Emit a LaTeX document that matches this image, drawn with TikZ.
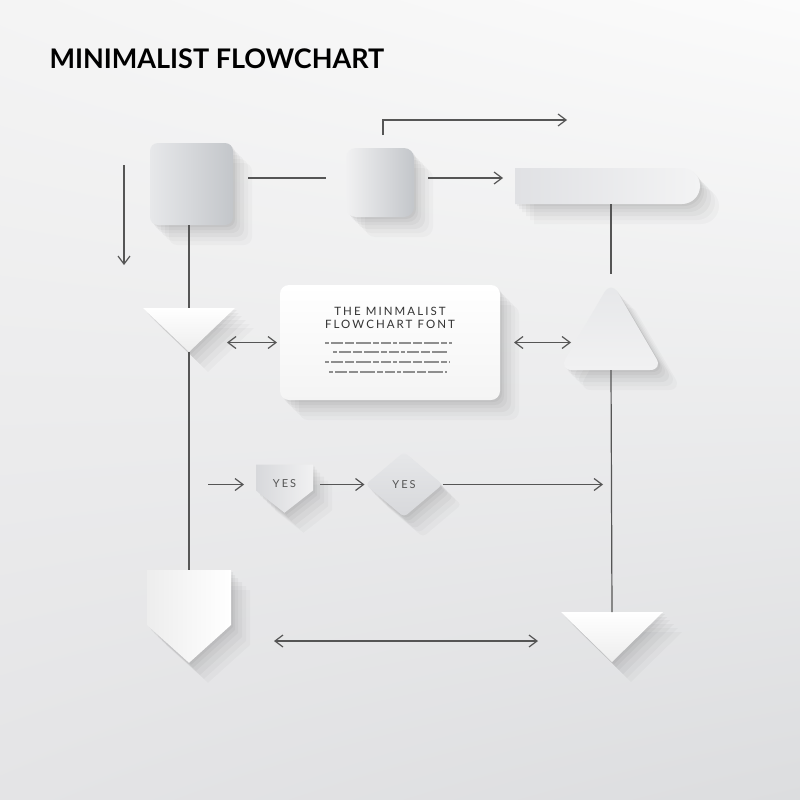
\documentclass[tikz,border=0pt]{standalone}
\usepackage{fontspec}
\usetikzlibrary{arrows.meta, shapes.geometric, shapes.symbols, shapes.misc, shadows, shadings}
\newfontfamily\titlefont{Lato}
\newfontfamily\cardfont[LetterSpace=18]{Lato}
\definecolor{linegray}{HTML}{555555}
\definecolor{boxlight}{HTML}{E7E8EA}
\definecolor{boxdark}{HTML}{C3C6CA}
\definecolor{pilldark}{HTML}{E0E1E4}
\definecolor{pilllight}{HTML}{F3F3F4}
\definecolor{softgray}{HTML}{EDEDED}
\definecolor{yesgray}{HTML}{D7D8DB}
\definecolor{yeslight}{HTML}{F1F1F2}
\definecolor{trigray}{HTML}{E6E7E9}
\definecolor{texgray}{HTML}{8E8E8E}
\definecolor{bgul}{HTML}{F4F4F4}
\definecolor{bgur}{HTML}{FBFBFB}
\definecolor{bgll}{HTML}{E4E4E6}
\definecolor{bglr}{HTML}{DCDDDF}

\begin{document}
\begin{tikzpicture}[x=1pt, y=-1pt,
  conn/.style={draw=linegray, line width=1.2pt},
  >={Straight Barb[length=8pt,width=12pt]},
  shadowed/.style={
    general shadow={fill=black, opacity=.025, shadow xshift=19pt, shadow yshift=-20pt},
    general shadow={fill=black, opacity=.025, shadow xshift=15pt, shadow yshift=-16pt},
    general shadow={fill=black, opacity=.03, shadow xshift=11pt, shadow yshift=-12pt},
    general shadow={fill=black, opacity=.03, shadow xshift=7pt, shadow yshift=-8pt},
    general shadow={fill=black, opacity=.035, shadow xshift=4pt, shadow yshift=-5pt},
    general shadow={fill=black, opacity=.04, shadow xshift=2pt, shadow yshift=-2pt}},
  graybox/.style={rectangle, rounded corners=8pt, shadowed, left color=boxlight, right color=boxdark, inner sep=0pt, outer sep=0pt},
  pillbox/.style={rounded rectangle, rounded rectangle left arc=none, shadowed, left color=pilldark, right color=pilllight, inner sep=0pt, outer sep=0pt},
  cardbox/.style={rectangle, rounded corners=9pt, shadowed, top color=white, bottom color=softgray!60, inner sep=0pt, outer sep=0pt},
  whitetri/.style={isosceles triangle, isosceles triangle stretches, shadowed, top color=white, bottom color=softgray, inner sep=0pt, outer sep=0pt},
  whitepent/.style={signal, signal to=south, shadowed, left color=softgray, right color=white, inner sep=0pt, outer sep=0pt},
  yespent/.style={signal, signal to=south, shadowed, left color=yesgray, right color=yeslight, inner sep=0pt, outer sep=0pt, font=\cardfont\fontsize{11}{13}\selectfont, text=linegray},
  yesdia/.style={diamond, rounded corners=4pt, shadowed, top color=trigray, bottom color=yesgray, inner sep=0pt, outer sep=0pt, font=\cardfont\fontsize{11}{13}\selectfont, text=linegray},
  textline/.style={draw=texgray, line width=2pt, dash pattern=on 4pt off 2pt on 12pt off 2pt on 9pt off 2pt on 15pt off 2pt on 6pt off 2pt on 10pt off 2pt}]

  % background
  \useasboundingbox (0,0) rectangle (800,800);
  \shade[upper left=bgul, upper right=bgur, lower left=bgll, lower right=bglr] (0,0) rectangle (800,800);

  \node[anchor=base west, font=\titlefont\bfseries\fontsize{27}{30}\selectfont] (title) at (46,68) {MINIMALIST FLOWCHART};

  % shapes
  \node[graybox, minimum width=83pt, minimum height=82pt] (boxA) at (191.5,184) {};
  \node[graybox, rounded corners=10pt, left color=yeslight, minimum width=68pt, minimum height=69pt] (boxB) at (380,182.5) {};
  \node[pillbox, minimum width=185pt, minimum height=36pt] (pill) at (607.5,186) {};
  \node[whitetri, shape border rotate=270, minimum width=92pt, minimum height=44pt, anchor=lower side] (triD) at (189,308) {};
  \node[cardbox, minimum width=220pt, minimum height=115pt] (card) at (390,342.5) {};
  \node[whitetri, shape border rotate=90, rounded corners=13pt, top color=trigray, bottom color=yeslight, minimum width=104pt, minimum height=89pt, anchor=lower side] (triF) at (611,370) {};
  \node[yespent, signal pointer angle=104, minimum width=57pt, minimum height=35pt, text height=21pt, text depth=2pt] (pentG) at (284.5,477.5) {YES};
  \node[yesdia, minimum width=77pt, minimum height=65pt] (diaH) at (404,484.5) {YES};
  \node[whitepent, signal pointer angle=96, minimum width=84pt, minimum height=55pt] (pentI) at (189,597.5) {};
  \node[whitetri, shape border rotate=270, minimum width=102pt, minimum height=50pt, anchor=lower side] (triJ) at (612,612) {};

  % card text
  \node[align=center, font=\cardfont\fontsize{11.5}{13}\selectfont, text=black!80] (cardhead) at (390,318) {THE MINMALIST\\FLOWCHART FONT};
  \foreach \y/\a/\b in {343/325/452, 352/333/447, 362/325/450, 372/329/447}
    \draw[textline] (\a,\y) -- (\b,\y);

  % connectors
  \coordinate (topend) at (567,120);
  \coordinate (lefttop) at (124,165);
  \coordinate (leftbot) at (124,265);
  \draw[conn, ->, shorten <=13pt] ([xshift=3pt]boxB.north) |- (topend);
  \draw[conn, ->] (lefttop) -- (leftbot);
  \draw[conn, shorten <=15pt, shorten >=20pt] ([yshift=6pt]boxA.east) -- ([yshift=4.5pt]boxB.west);
  \draw[conn, ->, shorten <=14pt, shorten >=12pt] ([yshift=4.5pt]boxB.east) -- ([yshift=8pt]pill.west);
  \draw[conn, shorten >=7pt] (triF.apex |- pill.south) -- (triF.apex);
  \draw[conn] (triD.lower side |- boxA.south) -- (triD.lower side);
  \draw[conn] (triD.apex) -- (pentI.north);
  \draw[conn, <->, shorten <=38pt, shorten >=3pt] (card.west -| triD.apex) -- (card.west);
  \draw[conn, <->, shorten <=14pt, shorten >=40pt] (card.east) -- (card.east -| triF.apex);
  \draw[conn, ->, shorten <=19pt, shorten >=12pt] (diaH.west -| triD.apex) -- (diaH.west -| pentG.west);
  \draw[conn, ->, shorten <=7pt, shorten >=1pt] (diaH.west -| pentG.east) -- (diaH.west);
  \draw[conn, ->, shorten >=8pt] (diaH.east) -- (diaH.east -| triF.apex);
  \draw[conn] (triF.lower side) -- (triJ.lower side);
  \draw[conn, <->, shorten <=43pt, shorten >=74pt] (pentI.east |- 0,641) -- (triJ.apex |- 0,641);
\end{tikzpicture}
\end{document}
